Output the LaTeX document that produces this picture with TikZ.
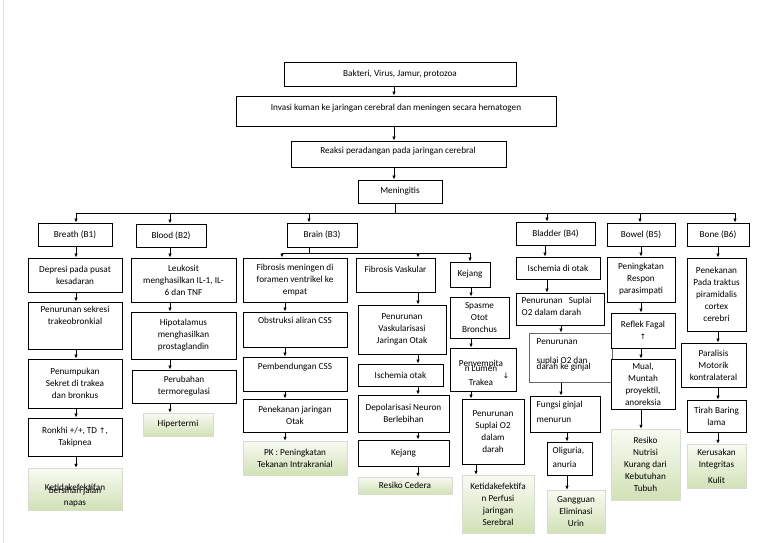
\documentclass[tikz,border=0pt]{standalone}
\usepackage{fontspec}
\setmainfont{Carlito}
\newfontfamily\symf{DejaVu Sans}
\usetikzlibrary{arrows.meta}
\definecolor{grTop}{RGB}{248,251,242}
\definecolor{grBot}{RGB}{210,225,182}
\newcommand\fsz{\fontsize{9.2}{12}\selectfont}
\newcommand\uparr{{\symf\fontsize{7.5}{9}\selectfont ↑}}
\newcommand\dnarr{{\symf\fontsize{7.5}{9}\selectfont ↓}}
\newcommand\bx[7][]{\node[box,minimum width={#4-#2},minimum height={#5-#3},#1] (#6) at ({(#2+#4)/2},{(#3+#5)/2}) {#7};}
\tikzset{
 box/.style={draw=black,line width=1pt,fill=white,inner sep=1pt,align=center,font=\fsz,text=black},
 grn/.style={draw=black!15,line width=0.5pt,top color=grTop,bottom color=grBot},
 txt/.style={inner sep=0pt,align=center,font=\fsz,text=black},
 arr/.style={line width=0.8pt,-{Latex[length=4pt,width=3.6pt]}},
 ln/.style={line width=0.8pt}
}
\begin{document}
\begin{tikzpicture}[x=1pt,y=-1pt]
\useasboundingbox (0,0) rectangle (768,543);
\draw[blue!8!black!12,line width=0.8pt] (3,0) -- (3,543);
% top chain
\bx{284}{63}{516}{86}{bak}{Bakteri, Virus, Jamur, protozoa}
\bx{236}{96}{556}{126}{inv}{}
\node[txt] (invt) at (396,108) {Invasi kuman ke jaringan cerebral dan meningen secara hematogen};
\bx{291}{141}{506}{167}{rea}{}
\node[txt] (reat) at (398,151) {Reaksi peradangan pada jaringan cerebral};
\bx{358}{180}{442}{203}{men}{Meningitis}
\draw[arr] (bak.south -| 394,0) -- (inv.north -| 394,0);
\draw[arr] (inv.south -| 394,0) -- (rea.north -| 394,0);
\draw[arr] (rea.south -| 394,0) -- (men.north -| 394,0);
\coordinate (busL) at (76,213);
\coordinate (busM) at (395,213);
\coordinate (busR) at (735,213);
\draw[ln] (men.south -| busM) -- (busM);
\draw[ln] (busL) -- (busR);
% B1
\bx{38}{223}{112}{246}{b1}{Breath (B1)}
\bx{28}{258}{122}{292}{d1}{Depresi pada pusat\\kesadaran}
\bx{28}{302}{122}{349}{d2}{}
\node[txt,anchor=north] (d2t) at ([yshift=-4pt]d2.north) {Penurunan sekresi\\trakeobronkial};
\bx{28}{359}{122}{408}{d3}{Penumpukan\\Sekret di trakea\\dan bronkus}
\bx{28}{418}{122}{456}{d4}{Ronkhi +/+, TD \uparr,\\Takipnea}
\bx[grn]{28}{468}{122}{510}{d5}{}
\node[txt] (d5a) at (75,487) {Ketidakefektifan};
\node[txt] (d5b) at (75,491) {bersihan jalan};
\node[txt] (d5c) at (75,504) {napas};
\draw[arr] (busL) -- (b1.north -| busL);
\draw[arr] (b1.south -| 76,0) -- (d1.north -| 76,0);
\draw[arr] (d1.south -| 76,0) -- (d2.north -| 76,0);
\draw[arr] (d2.south -| 76,0) -- (d3.north -| 76,0);
\draw[arr] (d3.south -| 76,0) -- (d4.north -| 76,0);
\draw[arr] (d4.south -| 76,0) -- (d5.north -| 76,0);
% B2
\bx{136}{224}{206}{247}{b2}{Blood (B2)}
\bx{131}{258}{236}{302}{e1}{Leukosit\\menghasilkan IL-1, IL-\\6 dan TNF}
\bx{131}{312}{236}{359}{e2}{Hipotalamus\\menghasilkan\\prostaglandin}
\bx{132}{370}{236}{403}{e3}{Perubahan\\termoregulasi}
\bx[grn]{143}{413}{213}{436}{e4}{Hipertermi}
\draw[arr] (170,213) -- (b2.north -| 170,0);
\draw[arr] (b2.south -| 170,0) -- (e1.north -| 170,0);
\draw[arr] (e1.south -| 170,0) -- (e2.north -| 170,0);
\draw[arr] (e2.south -| 170,0) -- (e3.north -| 170,0);
\draw[arr] (e3.south -| 170,0) -- (e4.north -| 170,0);
% B3
\bx{287}{223}{357}{247}{b3}{Brain (B3)}
\draw[arr] (309,213) -- (b3.north -| 309,0);
\coordinate (sb1) at (282,253);
\coordinate (sbm) at (309,253);
\coordinate (sb2) at (470,253);
\draw[ln] (b3.south -| sbm) -- (sbm);
\draw[ln] (sb1) -- (sb2);
\bx{243}{258}{347}{302}{f1}{Fibrosis meningen di\\foramen ventrikel ke\\empat}
\bx{243}{312}{347}{347}{f2}{}
\node[txt,anchor=north] (f2t) at ([yshift=-5pt]f2.north) {Obstruksi aliran CSS};
\bx{243}{357}{347}{391}{f3}{}
\node[txt,anchor=north] (f3t) at ([yshift=-6pt]f3.north) {Pembendungan CSS};
\bx{243}{399}{347}{432}{f4}{Penekanan jaringan\\Otak}
\bx[grn]{243}{441}{347}{475}{f5}{PK : Peningkatan\\Tekanan Intrakranial}
\draw[arr] (sb1) -- (f1.north -| sb1);
\draw[arr] (f1.south -| 285,0) -- (f2.north -| 285,0);
\draw[arr] (f2.south -| 285,0) -- (f3.north -| 285,0);
\draw[arr] (f3.south -| 285,0) -- (f4.north -| 285,0);
\draw[arr] (f4.south -| 285,0) -- (f5.north -| 285,0);
\bx{356}{258}{435}{292}{g1}{}
\node[txt,anchor=north] (g1t) at ([yshift=-8pt]g1.north) {Fibrosis Vaskular};
\bx{358}{305}{446}{354}{g2}{Penurunan\\Vaskularisasi\\Jaringan Otak}
\bx{358}{364}{443}{386}{g3}{Ischemia otak}
\bx{358}{395}{449}{432}{g4}{Depolarisasi Neuron\\Berlebihan}
\bx{358}{440}{449}{466}{g5}{Kejang}
\bx[grn]{358}{477}{452}{494}{g6}{Resiko Cedera}
\draw[arr] (418,253) -- (g1.north -| 418,0);
\draw[arr] (g1.south -| 418,0) -- (g2.north -| 418,0);
\draw[arr] (g2.south -| 418,0) -- (g3.north -| 418,0);
\draw[arr] (g3.south -| 418,0) -- (g4.north -| 418,0);
\draw[arr] (g4.south -| 418,0) -- (g5.north -| 418,0);
\draw[arr] (g5.south -| 418,0) -- (g6.north -| 418,0);
\bx{450}{262}{490}{287}{h1}{Kejang}
\bx{450}{297}{509}{338}{h2}{Spasme\\Otot\\Bronchus}
\bx{450}{348}{516}{391}{h3}{}
\node[txt] (h3a) at (481,364) {Penyempita};
\node[txt] (h3b) at (481,369) {n Lumen};
\node[txt] (h3c) at (481,382) {Trakea};
\node[txt] (h3d) at (506,376) {\dnarr};
\bx{462}{399}{524}{464}{h4}{Penurunan\\Suplai O2\\dalam\\darah}
\bx[grn]{462}{475}{534}{533}{h5}{Ketidakefektifa\\n Perfusi\\jaringan\\Serebral}
\draw[arr] (sb2) -- (h1.north -| sb2);
\draw[arr] (h1.south -| 471,0) -- (h2.north -| 471,0);
\draw[arr] (h2.south -| 471,0) -- (h3.north -| 471,0);
\draw[arr] (h3.south -| 471,0) -- (h4.north -| 471,0);
\draw[arr] (h4.south -| 476,0) -- (h5.north -| 476,0);
% B4
\bx{516}{222}{595}{245}{i1}{Bladder (B4)}
\bx{516}{257}{600}{279}{i2}{Ischemia di otak}
\bx{516}{293}{604}{325}{i3}{}
\node[txt,align=left,anchor=north west] (i3t) at ([xshift=6pt,yshift=-4pt]i3.north west) {Penurunan\ \ \ Suplai\\O2 dalam darah};
\bx[draw=black!60]{529}{333}{612}{382}{i4}{}
\node[txt,align=left,anchor=north west] (i4a) at ([xshift=8pt,yshift=-6pt]i4.north west) {Penurunan};
\node[txt,align=left,anchor=north west] (i4b) at ([xshift=8pt,yshift=-24pt]i4.north west) {suplai O2 dan};
\node[txt,align=left,anchor=north west] (i4c) at ([xshift=8pt,yshift=-30pt]i4.north west) {darah ke ginjal};
\bx{530}{396}{600}{432}{i5}{}
\node[txt,align=left,anchor=north west] (i5t) at ([xshift=7pt,yshift=-5pt]i5.north west) {Fungsi ginjal\\[3pt]menurun};
\bx{547}{442}{592}{475}{i6}{}
\node[txt,align=left,anchor=north west] (i6t) at ([xshift=6pt,yshift=-5pt]i6.north west) {Oliguria,\\[2pt]anuria};
\bx[grn]{547}{490}{605}{533}{i7}{Gangguan\\Eliminasi\\Urin}
\draw[arr] (547,213) -- (i1.north -| 547,0);
\draw[arr] (i1.south -| 545,0) -- (i2.north -| 545,0);
\draw[arr] (i2.south -| 547,0) -- (i3.north -| 547,0);
\draw[arr] (i3.south -| 561,0) -- (i4.north -| 561,0);
\draw[arr] (i4.south -| 561,0) -- (i5.north -| 561,0);
\draw[arr] (i5.south -| 567,0) -- (i6.north -| 567,0);
\draw[arr] (i6.south -| 567,0) -- (i7.north -| 567,0);
% B5
\bx{607}{223}{675}{246}{j1}{Bowel (B5)}
\bx{607}{257}{675}{302}{j2}{Peningkatan\\Respon\\parasimpati}
\bx{611}{313}{675}{348}{j3}{Reflek Fagal\\\uparr}
\bx{611}{359}{675}{409}{j4}{Mual,\\Muntah\\proyektil,\\anoreksia}
\bx[grn]{611}{429}{680}{500}{j5}{Resiko\\Nutrisi\\Kurang dari\\Kebutuhan\\Tubuh}
\draw[arr] (640,213) -- (j1.north -| 640,0);
\draw[arr] (j1.south -| 641,0) -- (j2.north -| 641,0);
\draw[arr] (j2.south -| 641,0) -- (j3.north -| 641,0);
\draw[arr] (j3.south -| 641,0) -- (j4.north -| 641,0);
\draw[arr] (j4.south -| 641,0) -- (j5.north -| 641,0);
% B6
\bx{687}{223}{749}{246}{k1}{Bone (B6)}
\bx{687}{258}{746}{331}{k2}{Penekanan\\Pada traktus\\piramidalis\\cortex\\cerebri}
\bx{681}{343}{746}{387}{k3}{Paralisis\\Motorik\\kontralateral}
\bx{687}{400}{746}{432}{k4}{Tirah Baring\\lama}
\bx[grn]{687}{444}{746}{488}{k5}{Kerusakan\\Integritas\\[4pt]Kulit}
\draw[arr] (busR) -- (k1.north -| busR);
\draw[arr] (k1.south -| 718,0) -- (k2.north -| 718,0);
\draw[arr] (k2.south -| 718,0) -- (k3.north -| 718,0);
\draw[arr] (k3.south -| 718,0) -- (k4.north -| 718,0);
\draw[arr] (k4.south -| 718,0) -- (k5.north -| 718,0);
\end{tikzpicture}
\end{document}
